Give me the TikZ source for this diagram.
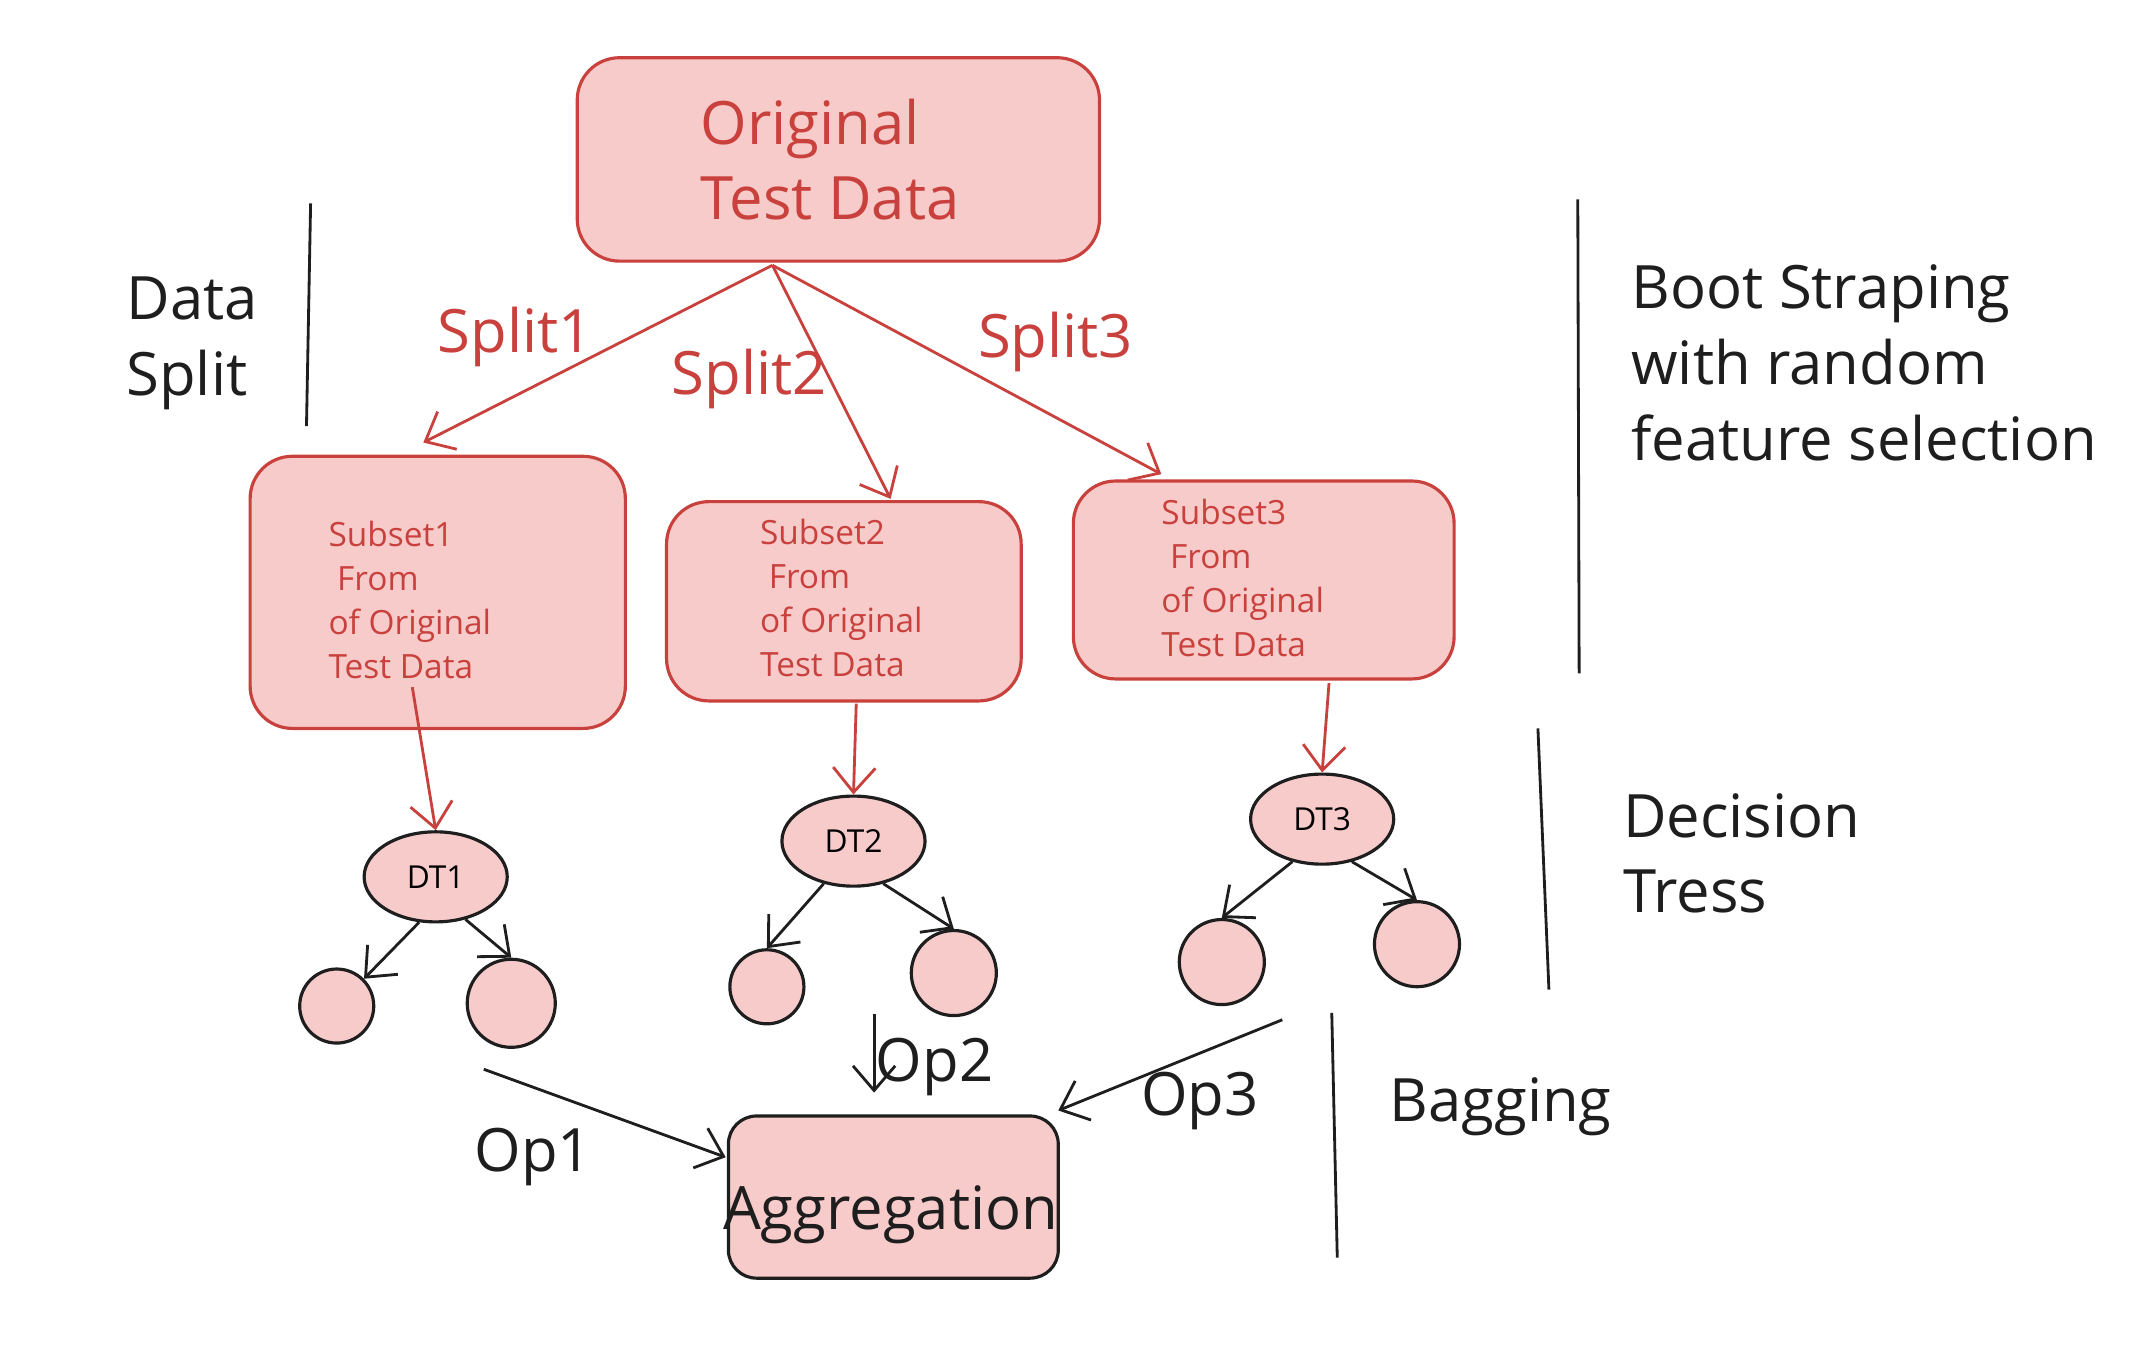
\documentclass[tikz,border=0pt]{standalone}
\usepackage{fontspec}
\setmainfont{Open Sans}
\usetikzlibrary{arrows.meta,positioning,shapes.geometric}
\definecolor{boxred}{HTML}{C9413D}
\definecolor{boxfill}{HTML}{F8CBCB}
\definecolor{ink}{HTML}{1E1E1E}
\tikzset{
  box/.style={draw=boxred,fill=boxfill,rounded corners=12pt,line width=0.9pt},
  blackbox/.style={draw=ink,fill=boxfill,rounded corners=8pt,line width=0.9pt},
  leaf/.style={draw=ink,fill=boxfill,line width=0.9pt},
  tree/.style={leaf,ellipse,inner sep=0pt,minimum width=1.43cm,minimum height=0.9cm,font=\small},
  redarrow/.style={draw=boxred,line width=0.8pt,-{Straight Barb[length=7pt,width=12pt]}},
  blackarrow/.style={draw=ink,line width=0.8pt,-{Straight Barb[length=7pt,width=12pt]}},
  sidebar/.style={draw=ink,line width=0.8pt},
  bigtext/.style={font=\fontsize{17}{21.5}\selectfont,align=left,text=ink},
  redtext/.style={font=\fontsize{17}{21.5}\selectfont,text=boxred},
  smalltext/.style={font=\fontsize{9.5}{12.5}\selectfont,align=left,text=boxred},
}
\begin{document}
\begin{tikzpicture}[x=0.01374cm,y=-0.01374cm]
\useasboundingbox (0,0) rectangle (1560,987);
% boxes
\draw[box] (420,42) rectangle (800,190);
\node[redtext,align=left] (orig) at (604,116) {Original\\ Test Data};
\draw[box] (182,332) rectangle (455,530);
\node[smalltext,anchor=north west] (sub1) at (230,370) {Subset1\\ \ From\\ of Original\\ Test Data};
\draw[box] (485,365) rectangle (743,510);
\node[smalltext,anchor=north west] (sub2) at (544,369) {Subset2\\ \ From\\ of Original\\ Test Data};
\draw[box] (781,350) rectangle (1058,494);
\node[smalltext,anchor=north west] (sub3) at (836,354) {Subset3\\ \ From\\ of Original\\ Test Data};
\draw[blackbox] (530,812) rectangle (770,930);
\node[bigtext] (agg) at (648,884) {Aggregation};
% split arrows
\coordinate (top) at (562,193);
\coordinate (in1) at (308,322);
\coordinate (in2) at (648,363);
\coordinate (in3) at (845,345);
\draw[redarrow] (top) -- (in1);
\draw[redarrow] (top) -- (in2);
\draw[redarrow] (top) -- (in3);
\node[redtext] (split1) at (375,245) {Split1};
\node[redtext] (split2) at (545,276) {Split2};
\node[redtext] (split3) at (768,249) {Split3};
% decision trees
\node[tree] (dt1) at (317,638) {DT1};
\node[tree] (dt2) at (621,612) {DT2};
\node[tree] (dt3) at (962,596) {DT3};
\draw[redarrow] (300,500) -- (dt1.north);
\draw[redarrow] (623,512) -- (dt2.north);
\draw[redarrow] (967,497) -- (dt3.north);
\node[leaf,circle,minimum size=0.74cm,inner sep=0pt] (l1) at (245,732) {};
\node[leaf,circle,minimum size=0.88cm,inner sep=0pt] (r1) at (372,730) {};
\node[leaf,circle,minimum size=0.74cm,inner sep=0pt] (l2) at (558,718) {};
\node[leaf,circle,minimum size=0.85cm,inner sep=0pt] (r2) at (694,708) {};
\node[leaf,circle,minimum size=0.85cm,inner sep=0pt] (l3) at (889,700) {};
\node[leaf,circle,minimum size=0.85cm,inner sep=0pt] (r3) at (1031,687) {};
\draw[blackarrow] (dt1.250) -- (l1.north east);
\draw[blackarrow] (dt1.-55) -- (r1.north);
\draw[blackarrow] (dt2.235) -- (l2.north);
\draw[blackarrow] (dt2.-55) -- (r2.north);
\draw[blackarrow] (dt3.235) -- (l3.north);
\draw[blackarrow] (dt3.-55) -- (r3.north);
% bagging
\coordinate (op1s) at (352,778);
\coordinate (op2s) at (636,738);
\coordinate (op3s) at (933,742);
\draw[blackarrow] (op1s) -- (528,842);
\draw[blackarrow] (op2s) -- (636,795);
\draw[blackarrow] (op3s) -- (770,808);
\node[bigtext] (op1) at (388,842) {Op1};
\node[bigtext] (op2) at (680,776) {Op2};
\node[bigtext] (op3) at (873,801) {Op3};
% side labels
\node[bigtext,anchor=west] (ds) at (83,250) {Data\\Split};
\node[bigtext,anchor=west] (bs) at (1178,264) {Boot Straping\\with random\\feature selection};
\node[bigtext,anchor=west] (dtr) at (1172,621) {Decision\\Tress};
\node[bigtext,anchor=west] (bag) at (1002,805) {Bagging};
\draw[sidebar] (226,148) -- (223,310);
\draw[sidebar] (1148,145) -- (1149,490);
\draw[sidebar] (1119,530) -- (1127,720);
\draw[sidebar] (969,737) -- (973,915);
\end{tikzpicture}
\end{document}
